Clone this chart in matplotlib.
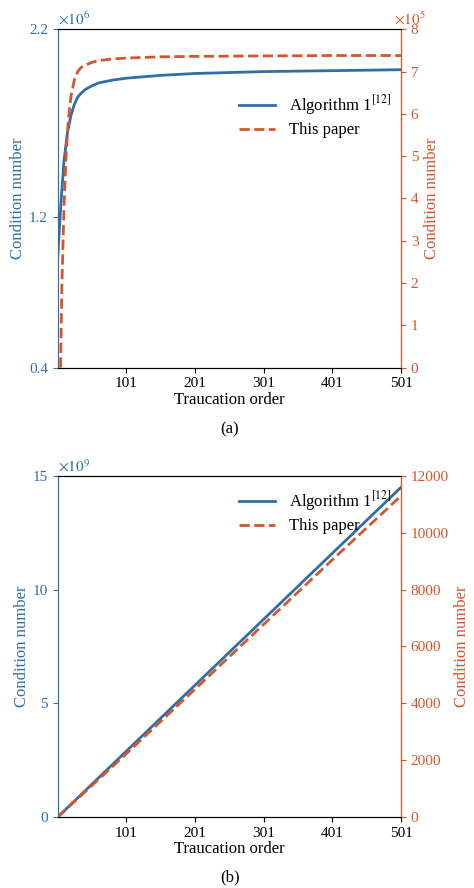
import matplotlib.pyplot as plt

plt.rcParams['font.family'] = ['Liberation Serif', 'DejaVu Serif']
plt.rcParams['mathtext.fontset'] = 'stix'

BLUE = '#2f6fa8'
ORANGE = '#d4562b'

# (a) values
a_order = [1, 3, 6, 10, 15, 20, 25, 30, 35, 41, 51, 61, 81, 101, 151, 201, 301, 401, 501]
a_alg1 = [1.00e6, 1.12e6, 1.30e6, 1.50e6, 1.65e6, 1.74e6, 1.80e6, 1.84e6, 1.86e6, 1.88e6,
          1.90e6, 1.915e6, 1.93e6, 1.94e6, 1.955e6, 1.965e6, 1.975e6, 1.98e6, 1.985e6]
a_order_p = [5, 7, 10, 13, 16, 20, 25, 30, 35, 41, 51, 61, 81, 101, 151, 201, 301, 401, 501]
a_paper = [0.0, 2.0e5, 3.8e5, 5.0e5, 5.8e5, 6.4e5, 6.8e5, 7.0e5, 7.1e5, 7.15e5, 7.22e5,
           7.26e5, 7.3e5, 7.32e5, 7.35e5, 7.36e5, 7.37e5, 7.38e5, 7.38e5]

# (b)
b_order = [1, 101, 201, 301, 401, 501]
b_alg1 = [0.0, 2.9e9, 5.8e9, 8.7e9, 11.6e9, 14.5e9]
b_paper = [0, 2230, 4500, 6780, 9050, 11300]

xticks = [101, 201, 301, 401, 501]

fig = plt.figure(figsize=(4.74, 8.88), dpi=100)

def style(ax, ax2):
    ax.set_xlim(1, 501)
    ax.set_xticks(xticks)
    ax.tick_params(axis='y', colors=BLUE, labelsize=11, direction='out')
    ax.tick_params(axis='x', labelsize=11, direction='out')
    ax2.tick_params(axis='y', colors=ORANGE, labelsize=11, direction='out')
    ax.spines['left'].set_color(BLUE)
    ax2.spines['left'].set_color(BLUE)
    ax2.spines['right'].set_color(ORANGE)
    ax.set_ylabel('Condition number', color=BLUE, fontsize=12, labelpad=2)
    ax2.set_ylabel('Condition number', color=ORANGE, fontsize=12, labelpad=4)
    ax.set_xlabel('Traucation order', fontsize=12, labelpad=1)

# panel (a)
ax = fig.add_axes([0.122, 0.586, 0.724, 0.381])
ax2 = ax.twinx()
l1, = ax.plot(a_order, a_alg1, color=BLUE, lw=2)
l2, = ax2.plot(a_order_p, a_paper, color=ORANGE, lw=2, ls='--')
ax.set_ylim(0.4e6, 2.2e6)
ax.set_yticks([0.4e6, 1.2e6, 2.2e6])
ax.set_yticklabels(['0.4', '1.2', '2.2'])
ax2.set_ylim(0, 8e5)
ax2.set_yticks([i * 1e5 for i in range(9)])
ax2.set_yticklabels([str(i) for i in range(9)])
style(ax, ax2)
ax.text(0.0, 1.005, r'$\times 10^6$', transform=ax.transAxes, color=BLUE, fontsize=11, va='bottom')
ax2.text(0.98, 1.005, r'$\times 10^5$', transform=ax.transAxes, color=ORANGE, fontsize=11, va='bottom')
ax.legend([l1, l2], ['Algorithm 1$^{[12]}$', 'This paper'], loc='upper right',
          bbox_to_anchor=(1.0, 0.84), frameon=False, fontsize=12, handlelength=2.2,
          borderaxespad=0.2, labelspacing=0.3)
fig.text(0.485, 0.512, '(a)', ha='center', fontsize=12)

# panel (b)
bx = fig.add_axes([0.122, 0.080, 0.724, 0.384])
bx2 = bx.twinx()
m1, = bx.plot(b_order, b_alg1, color=BLUE, lw=2)
m2, = bx2.plot(b_order, b_paper, color=ORANGE, lw=2, ls='--')
bx.set_ylim(0, 15e9)
bx.set_yticks([0, 5e9, 10e9, 15e9])
bx.set_yticklabels(['0', '5', '10', '15'])
bx2.set_ylim(0, 12000)
bx2.set_yticks(range(0, 12001, 2000))
style(bx, bx2)
bx.text(0.0, 1.005, r'$\times 10^9$', transform=bx.transAxes, color=BLUE, fontsize=11, va='bottom')
bx.legend([m1, m2], ['Algorithm 1$^{[12]}$', 'This paper'], loc='upper right',
          bbox_to_anchor=(1.0, 0.99), frameon=False, fontsize=12, handlelength=2.2,
          borderaxespad=0.2, labelspacing=0.3)
fig.text(0.485, 0.008, '(b)', ha='center', fontsize=12)

fig.savefig('out.png', dpi=100)
